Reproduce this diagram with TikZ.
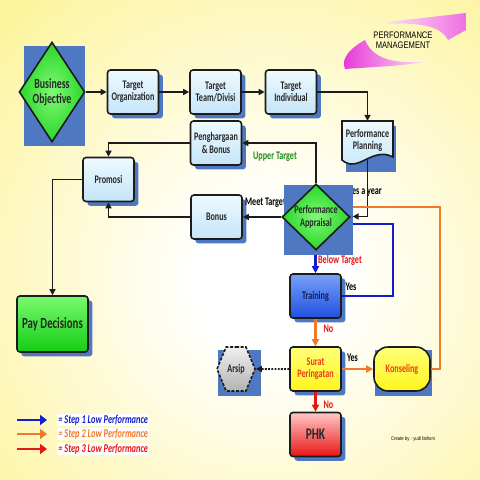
\documentclass[tikz,border=0pt]{standalone}
\usepackage{fontspec}
\usetikzlibrary{arrows.meta,shapes.geometric,shapes.symbols,shadows}
\newfontfamily\boxfont[FakeStretch=0.7]{Carlito}
\newfontfamily\bannerfont[FakeStretch=0.8]{Liberation Sans}
\definecolor{shadowblue}{RGB}{79,120,194}
\definecolor{boxtop}{RGB}{238,250,255}
\definecolor{boxbot}{RGB}{196,229,248}
\definecolor{bgyellow}{RGB}{253,243,150}
\definecolor{linegray}{RGB}{28,28,28}
\definecolor{stepone}{RGB}{20,30,200}
\definecolor{steptwo}{RGB}{240,122,40}
\definecolor{stepthree}{RGB}{228,22,22}
\definecolor{uppergreen}{RGB}{30,140,30}
\definecolor{suratred}{RGB}{232,64,20}
\definecolor{navytext}{RGB}{16,32,80}
\definecolor{bannerpink}{RGB}{232,50,215}
\definecolor{bannerpale}{RGB}{250,222,246}
\pgfdeclareradialshading{bgglow}{\pgfpoint{0bp}{0bp}}{color(0bp)=(white); color(6bp)=(white); color(33bp)=(bgyellow); color(50bp)=(bgyellow)}
\tikzset{
    boxshadow/.style={drop shadow={shadow xshift=2.2mm, shadow yshift=-2.2mm, fill=shadowblue, opacity=1}},
    boxtext/.style={font=\boxfont\bfseries\fontsize{16.5}{17.5}\selectfont},
    box/.style={boxtext, draw=linegray, line width=0.8mm, rounded corners=1.5mm, top color=boxtop, bottom color=boxbot,
        minimum width=25.5mm, minimum height=22mm, align=center, inner sep=0.5mm, text=black!85, boxshadow},
    decision/.style={boxtext, diamond, draw=linegray, line width=0.8mm, inner sep=0pt, align=center,
        inner color={rgb,255:red,130;green,248;blue,120}, outer color={rgb,255:red,40;green,215;blue,40}, text=black!85},
    sqshadow/.style={fill=shadowblue, inner sep=0pt},
    conn/.style={draw=linegray, line width=0.8mm, -{Triangle[length=3mm, width=3mm]}},
    flow/.style={line width=1.1mm, -{Triangle[length=3.5mm, width=3.5mm]}},
    lbl/.style={boxtext, inner sep=0pt},
    legarrow/.style={line width=1.4mm, -{Triangle[length=3.5mm, width=5mm]}},
    legtext/.style={font=\boxfont\bfseries\itshape\fontsize{17}{17}\selectfont, fill=white, inner sep=0.6mm, anchor=west}
}
\begin{document}
\begin{tikzpicture}[x=0.5mm, y=-0.5mm]

    \useasboundingbox (0, 0) rectangle (480, 480);
    \begin{scope}
        \clip (0, 0) rectangle (480, 480);
        \shade[shading=bgglow] (-30, -20) rectangle (570, 580);
    \end{scope}

    \shade[left color=bannerpale, right color=bannerpink!70!white] (388, 22) -- (466, 13) -- (466, 30) -- (448, 40)
        .. controls (442, 28) and (425, 22) .. (388, 24) -- cycle;
    \shade[left color=bannerpink, right color=bannerpale] (365, 40) .. controls (352, 47) and (340, 58) .. (345, 69)
        .. controls (372, 67) and (402, 66) .. (424, 62) .. controls (400, 63) and (374, 62) .. (365, 40) -- cycle;
    \node[font=\bannerfont\fontsize{13.5}{13.5}\selectfont, align=center] (banner) at (403, 40) {PERFORMANCE\\MANAGEMENT};

    \node[sqshadow, minimum width=30.5mm, minimum height=50mm] (bizsq) at (54.5, 96) {};
    \node[decision, minimum width=30mm, minimum height=50mm, font=\boxfont\bfseries\fontsize{20}{21}\selectfont] (bizobj) at (52, 92) {Business\\Objective};

    \node[box] (torg) at (133, 92) {Target\\Organization};
    \node[box] (tteam) at (215.5, 92) {Target\\Team/Divisi};
    \node[box] (tind) at (291, 92) {Target\\Individual};

    \fill[shadowblue] (346, 126) rectangle (396, 172);
    \draw[line width=0.8mm, draw=linegray, top color=boxtop, bottom color=boxbot] (342, 121) -- (393, 121) -- (393, 157)
        .. controls (372, 146) and (358, 174) .. (342, 160) -- cycle;
    \node[boxtext, align=center, minimum width=25.5mm, minimum height=19.5mm, inner sep=0pt, text=black!85] (pplan) at (367.5, 140.5) {Performance\\Planning};

    \node[box] (pengh) at (216, 143) {Penghargaan\\\& Bonus};
    \node[box] (promosi) at (108.5, 179.5) {Promosi};
    \node[box] (bonus) at (216.5, 217) {Bonus};
    \node[box, minimum width=35.5mm, minimum height=28mm, top color={rgb,255:red,120;green,250;blue,110}, bottom color={rgb,255:red,20;green,205;blue,20},
        font=\boxfont\bfseries\fontsize{22}{22}\selectfont] (paydec) at (52.5, 324) {Pay Decisions};

    \node[lbl, anchor=base west] (meetlbl) at (245, 205) {Meet Target};
    \node[lbl, anchor=base east] (twicelbl) at (382, 194) {2 times a year};
    \node[sqshadow, minimum width=34.5mm, minimum height=35mm] (apprsq) at (318, 220) {};
    \node[decision, minimum width=34mm, minimum height=33mm] (appr) at (316, 217) {Performance\\Appraisal};

    \node[box, top color={rgb,255:red,120;green,160;blue,248}, bottom color={rgb,255:red,30;green,80;blue,225}, text=navytext] (training) at (315.5, 296) {Training};
    \node[box, top color={rgb,255:red,255;green,255;blue,120}, bottom color={rgb,255:red,255;green,245;blue,30}, text=suratred] (surat) at (315.5, 369) {Surat\\Peringatan};
    \node[sqshadow, minimum width=28.5mm, minimum height=23mm] (konselsq) at (403.5, 373) {};
    \node[boxtext, draw=linegray, line width=0.8mm, rounded corners=7mm, minimum width=28mm, minimum height=22mm,
        top color={rgb,255:red,255;green,255;blue,120}, bottom color={rgb,255:red,255;green,245;blue,30}, text=suratred] (konsel) at (402, 369) {Konseling};
    \node[sqshadow, minimum width=21.5mm, minimum height=23mm] (arsipsq) at (239.5, 373) {};
    \node[boxtext, signal, signal to=west and east, signal pointer angle=135, minimum width=19mm, minimum height=22mm, inner sep=0pt,
        draw=linegray, line width=0.8mm, dash pattern=on 1.5mm off 0.8mm, top color=black!6, bottom color=black!30, text=black!85] (arsip) at (236, 369) {Arsip};
    \node[box, top color={rgb,255:red,255;green,200;blue,200}, bottom color={rgb,255:red,235;green,20;blue,20},
        font=\boxfont\bfseries\fontsize{23}{23}\selectfont] (phk) at (315.5, 434.5) {PHK};

    \draw[conn] (bizobj) to (torg);
    \draw[conn] (torg) to (tteam);
    \draw[conn] (tteam) to (tind);
    \draw[conn] (tind.east) -| (pplan.north);
    \draw[conn] (pplan.south) |- ([yshift=1.75mm]apprsq.east);
    \draw[conn] (appr.north) |- (pengh.east);
    \draw[conn] (pengh.west) -| (promosi.north);
    \draw[conn] (appr.west) to (bonus.east);
    \draw[conn] (bonus.west) -| (promosi.south);
    \draw[conn] (promosi.west) -| (paydec.north);
    \draw[flow, stepone] (apprsq.south -| training.north) to (training.north);
    \draw[line width=1.1mm, stepone] (training.east) -- ++(25.5mm, 0) |- ([yshift=-2mm]apprsq.east);
    \draw[flow, steptwo] (training) to (surat);
    \draw[flow, steptwo] (surat) to (konsel);
    \draw[line width=1.1mm, steptwo] (konsel.east) -- ++(4.5mm, 0) |- ([yshift=6.5mm]apprsq.east);
    \draw[flow, stepthree] (surat) to (phk);
    \draw[line width=0.9mm, dotted, linegray, -{Triangle[length=3mm, width=3mm]}] (surat) to (arsip);

    \node[lbl, text=uppergreen] (upperlbl) at (275, 157) {Upper Target};
    \node[lbl, text=stepthree, anchor=west] (belowlbl) at (318, 260) {Below Target};
    \node[lbl] (yes1) at (351, 287) {Yes};
    \node[lbl, text=stepthree] (no1) at (328.5, 329) {No};
    \node[lbl] (yes2) at (352.5, 358) {Yes};
    \node[lbl, text=stepthree] (no2) at (328.5, 405) {No};

    \coordinate (leg1) at (17, 420);
    \coordinate (leg2) at (17, 434);
    \coordinate (leg3) at (17, 449);
    \draw[legarrow, stepone] (leg1) -- ++(15mm, 0);
    \draw[legarrow, steptwo] (leg2) -- ++(15mm, 0);
    \draw[legarrow, stepthree] (leg3) -- ++(15mm, 0);
    \node[legtext, text=stepone] (legtxt1) at (57, 420) {= Step 1 Low Performance};
    \node[legtext, text=steptwo] (legtxt2) at (57, 434) {= Step 2 Low Performance};
    \node[legtext, text=stepthree] (legtxt3) at (57, 449) {= Step 3 Low Performance};

    \node[font=\bannerfont\fontsize{7.5}{9}\selectfont] (credit) at (413, 439) {Create by : yudi fathoni};

\end{tikzpicture}
\end{document}
